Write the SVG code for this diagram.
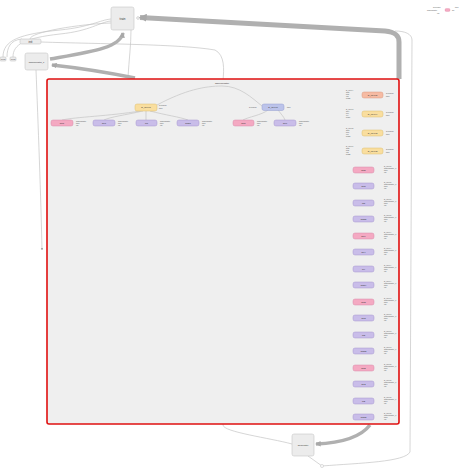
<svg xmlns="http://www.w3.org/2000/svg" width="474" height="476" viewBox="0 0 474 476">
<style>
text{font-family:"Liberation Sans",Arial,sans-serif;fill:#333}
.n{font-size:3px;text-anchor:middle}
.t{font-size:1.8px;fill:#555}
.box{fill:#ececec;stroke:#c8c8c8;stroke-width:0.6}
.pink{fill:#f4a9c2;stroke:#d98aa8;stroke-width:0.5}
.purp{fill:#c9bde9;stroke:#a596cf;stroke-width:0.5}
.yel{fill:#f9de9f;stroke:#dcbc6e;stroke-width:0.5}
.sal{fill:#f6bba3;stroke:#d99a80;stroke-width:0.5}
.blu{fill:#bcc3ea;stroke:#949fd1;stroke-width:0.5}
.thin{fill:none;stroke:#c4c4c4;stroke-width:0.7}
.thick{fill:none;stroke:#b0b0b0}
</style>
<defs>
<marker id="ah" viewBox="0 0 6 6" refX="5" refY="3" markerWidth="4" markerHeight="4" orient="auto"><path d="M0,0L6,3L0,6z" fill="#a8a8a8"/></marker>
<marker id="ahs" viewBox="0 0 6 6" refX="5" refY="3" markerWidth="1.6" markerHeight="1.6" orient="auto"><path d="M0,0L6,3L0,6z" fill="#a8a8a8"/></marker>
</defs>
<rect width="474" height="476" fill="#fff"/>

<g id="connectors">
<path class="thin" d="M3,57 C3,40 20,34 60,30 C90,27 100,20 111,19"/>
<path class="thin" d="M13,57 C13,44 25,38 60,34 C90,31 100,22 111,21"/>
<path class="thin" d="M22,39 C10,40 7,48 7,57"/>
<path class="thin" d="M30,39 C30,32 80,24 111,23"/>
<path class="thin" d="M41,42 C100,44 180,44 215,50 C225,55 224,70 223,80"/>
<path class="thin" d="M131,30 C131,45 129,60 128,77"/>
<path class="thin" d="M36,70 C38,120 41,200 42,250" marker-end="url(#ah)"/>
<path class="thin" d="M223,95 L223,425 C223,432 270,438 292,444"/>
<path class="thin" d="M308,456 L322,466 M322,466 C360,463 405,462 410,452 L412,40 C412,34 405,31 395,31"/>
<circle cx="322" cy="466" r="1.5" fill="#fff" stroke="#c4c4c4" stroke-width="0.6"/>
<path class="thick" stroke-width="3.5" d="M50,59 C90,52 120,48 123,33" marker-end="url(#ahs)"/>
<path class="thick" stroke-width="3.5" d="M135,78 C110,73 80,68 52,65" marker-end="url(#ahs)"/>
<path class="thick" stroke-width="5" d="M399,79 L399,42 C399,35 395,32 385,31 L140,17.5" marker-end="url(#ahs)"/>
<path class="thick" stroke-width="3.5" d="M370,425 C360,438 340,443 316,444" marker-end="url(#ahs)"/>
<circle cx="138" cy="18" r="1.3" fill="#fff" stroke="#a8a8a8" stroke-width="0.5"/>
</g>

<g id="train"><rect class="box" x="111" y="7" width="23" height="23" rx="2"/><text class="n" x="122.5" y="19.5">train</text></g>
<g id="init"><rect class="box" x="20" y="39" width="21" height="5" rx="1.5"/><text class="n" x="30.5" y="42.5">init</text></g>
<g id="const0"><rect class="box" x="0" y="57" width="6" height="4" rx="1"/><text class="t" x="3" y="59.8" text-anchor="middle">Const</text></g>
<g id="const1"><rect class="box" x="10" y="57" width="6" height="4" rx="1"/><text class="t" x="13" y="59.8" text-anchor="middle">Const</text></g>
<g id="discriminator_1"><rect class="box" x="25" y="53" width="23" height="17" rx="2"/><text class="n" x="36.5" y="62.5" style="font-size:2.3px">discriminator_1</text></g>
<g id="generator"><rect class="box" x="292" y="434" width="22" height="22" rx="2"/><text class="n" x="303" y="446" style="font-size:2.5px">generator</text></g>

<g id="discriminator">
<rect x="47" y="79" width="352" height="345" rx="2" fill="#efefef" stroke="#e01010" stroke-width="1.6"/>
<text class="n" x="222" y="83.5" style="font-size:2.5px">discriminator</text>
</g>

<g id="inner-edges">
<path class="thin" d="M157,105 C185,90 205,86 222,86 C240,86 252,98 262,106"/>
<path class="thin" d="M140,111 C110,116 75,117 62,120"/>
<path class="thin" d="M143,111 C125,115 110,117 104,120"/>
<path class="thin" d="M146,111 L146,120"/>
<path class="thin" d="M150,111 C165,115 180,117 188,120"/>
<path class="thin" d="M268,110 C262,115 248,117 243,120"/>
<path class="thin" d="M278,110 C281,114 284,117 285,120"/>
</g>

<g id="D_layer1"><rect class="yel" x="135" y="104" width="22" height="7" rx="2"/><text class="n" x="146" y="108.4" style="font-size:2.4px">D_layer1</text><text class="t" x="159" y="106">2 tensors</text><text class="t" x="159" y="108.5">train</text></g>
<g id="D_layer0"><rect class="blu" x="262" y="104" width="22" height="6.5" rx="2"/><text class="n" x="273" y="108.2" style="font-size:2.4px">D_layer0</text><text class="t" x="249" y="108">2 tensors</text><text class="t" x="287" y="108">train</text></g>

<g id="wn1"><rect class="pink" x="51" y="120" width="22" height="6" rx="2"/><text class="n" x="62" y="124" style="font-size:2.4px">wn1</text><text class="t" x="76" y="122">discriminator</text><text class="t" x="76" y="124">train</text><text class="t" x="76" y="126">init</text></g>
<g id="bn1"><rect class="purp" x="93" y="120" width="22" height="6" rx="2"/><text class="n" x="104" y="124" style="font-size:2.4px">bn1</text><text class="t" x="118" y="122">discriminator</text><text class="t" x="118" y="124">train</text><text class="t" x="118" y="126">init</text></g>
<g id="ip1"><rect class="purp" x="136" y="120" width="21" height="6" rx="2"/><text class="n" x="146.5" y="124" style="font-size:2.4px">ip1</text><text class="t" x="160" y="122">discriminator</text><text class="t" x="160" y="124">train</text><text class="t" x="160" y="126">init</text></g>
<g id="bias1"><rect class="purp" x="177" y="120" width="22" height="6" rx="2"/><text class="n" x="188" y="124" style="font-size:2.4px">bias1</text><text class="t" x="202" y="122">discriminator</text><text class="t" x="202" y="124">train</text><text class="t" x="202" y="126">init</text></g>
<g id="wn0"><rect class="pink" x="233" y="120" width="21" height="6" rx="2"/><text class="n" x="243.5" y="124" style="font-size:2.4px">wn0</text><text class="t" x="257" y="122">discriminator</text><text class="t" x="257" y="124">train</text><text class="t" x="257" y="126">init</text></g>
<g id="bn0"><rect class="purp" x="274" y="120" width="22" height="6" rx="2"/><text class="n" x="285" y="124" style="font-size:2.4px">bn0</text><text class="t" x="299" y="122">discriminator</text><text class="t" x="299" y="124">train</text><text class="t" x="299" y="126">init</text></g>

<g id="D_layer5"><rect class="sal" x="362" y="92" width="21" height="6" rx="2"/><text class="n" x="372.5" y="96" style="font-size:2.4px">D_layer5</text><text class="t" x="346" y="90.5">D_layer4</text><text class="t" x="346" y="92.5">wn5</text><text class="t" x="346" y="94.5">bn5</text><text class="t" x="346" y="96.5">ip5</text><text class="t" x="346" y="98.5">bias5</text><text class="t" x="386" y="94">2 tensors</text><text class="t" x="386" y="96.5">train</text></g>
<g id="D_layer4"><rect class="yel" x="362" y="111" width="21" height="6" rx="2"/><text class="n" x="372.5" y="115" style="font-size:2.4px">D_layer4</text><text class="t" x="346" y="109.5">D_layer3</text><text class="t" x="346" y="111.5">wn4</text><text class="t" x="346" y="113.5">bn4</text><text class="t" x="346" y="115.5">ip4</text><text class="t" x="346" y="117.5">bias4</text><text class="t" x="386" y="113">2 tensors</text><text class="t" x="386" y="115.5">train</text></g>
<g id="D_layer3"><rect class="yel" x="362" y="130" width="21" height="6" rx="2"/><text class="n" x="372.5" y="134" style="font-size:2.4px">D_layer3</text><text class="t" x="346" y="128.5">D_layer2</text><text class="t" x="346" y="130.5">wn3</text><text class="t" x="346" y="132.5">bn3</text><text class="t" x="346" y="134.5">ip3</text><text class="t" x="346" y="136.5">bias3</text><text class="t" x="386" y="132">2 tensors</text><text class="t" x="386" y="134.5">train</text></g>
<g id="D_layer2"><rect class="yel" x="362" y="148" width="21" height="6" rx="2"/><text class="n" x="372.5" y="152" style="font-size:2.4px">D_layer2</text><text class="t" x="346" y="146.5">D_layer1</text><text class="t" x="346" y="148.5">wn2</text><text class="t" x="346" y="150.5">bn2</text><text class="t" x="346" y="152.5">ip2</text><text class="t" x="346" y="154.5">bias2</text><text class="t" x="386" y="150">2 tensors</text><text class="t" x="386" y="152.5">train</text></g>

<g id="wn5"><rect class="pink" x="353" y="167" width="21" height="6" rx="2"/><text class="n" x="363.5" y="171" style="font-size:2.4px">wn5</text><text class="t" x="384" y="166.5">D_layer5</text><text class="t" x="384" y="168.5">discriminator_1</text><text class="t" x="384" y="170.5">train</text><text class="t" x="384" y="172.5">init</text></g>
<g id="bn5"><rect class="purp" x="353" y="183" width="21" height="6" rx="2"/><text class="n" x="363.5" y="187" style="font-size:2.4px">bn5</text><text class="t" x="384" y="182.5">D_layer5</text><text class="t" x="384" y="184.5">discriminator_1</text><text class="t" x="384" y="186.5">train</text><text class="t" x="384" y="188.5">init</text></g>
<g id="ip5"><rect class="purp" x="353" y="200" width="21" height="6" rx="2"/><text class="n" x="363.5" y="204" style="font-size:2.4px">ip5</text><text class="t" x="384" y="199.5">D_layer5</text><text class="t" x="384" y="201.5">discriminator_1</text><text class="t" x="384" y="203.5">train</text><text class="t" x="384" y="205.5">init</text></g>
<g id="bias5"><rect class="purp" x="353" y="216" width="21" height="6" rx="2"/><text class="n" x="363.5" y="220" style="font-size:2.4px">bias5</text><text class="t" x="384" y="215.5">D_layer5</text><text class="t" x="384" y="217.5">discriminator_1</text><text class="t" x="384" y="219.5">train</text><text class="t" x="384" y="221.5">init</text></g>
<g id="wn4"><rect class="pink" x="353" y="233" width="21" height="6" rx="2"/><text class="n" x="363.5" y="237" style="font-size:2.4px">wn4</text><text class="t" x="384" y="232.5">D_layer4</text><text class="t" x="384" y="234.5">discriminator_1</text><text class="t" x="384" y="236.5">train</text><text class="t" x="384" y="238.5">init</text></g>
<g id="bn4"><rect class="purp" x="353" y="249" width="21" height="6" rx="2"/><text class="n" x="363.5" y="253" style="font-size:2.4px">bn4</text><text class="t" x="384" y="248.5">D_layer4</text><text class="t" x="384" y="250.5">discriminator_1</text><text class="t" x="384" y="252.5">train</text><text class="t" x="384" y="254.5">init</text></g>
<g id="ip4"><rect class="purp" x="353" y="266" width="21" height="6" rx="2"/><text class="n" x="363.5" y="270" style="font-size:2.4px">ip4</text><text class="t" x="384" y="265.5">D_layer4</text><text class="t" x="384" y="267.5">discriminator_1</text><text class="t" x="384" y="269.5">train</text><text class="t" x="384" y="271.5">init</text></g>
<g id="bias4"><rect class="purp" x="353" y="282" width="21" height="6" rx="2"/><text class="n" x="363.5" y="286" style="font-size:2.4px">bias4</text><text class="t" x="384" y="281.5">D_layer4</text><text class="t" x="384" y="283.5">discriminator_1</text><text class="t" x="384" y="285.5">train</text><text class="t" x="384" y="287.5">init</text></g>
<g id="wn3"><rect class="pink" x="353" y="299" width="21" height="6" rx="2"/><text class="n" x="363.5" y="303" style="font-size:2.4px">wn3</text><text class="t" x="384" y="298.5">D_layer3</text><text class="t" x="384" y="300.5">discriminator_1</text><text class="t" x="384" y="302.5">train</text><text class="t" x="384" y="304.5">init</text></g>
<g id="bn3"><rect class="purp" x="353" y="315" width="21" height="6" rx="2"/><text class="n" x="363.5" y="319" style="font-size:2.4px">bn3</text><text class="t" x="384" y="314.5">D_layer3</text><text class="t" x="384" y="316.5">discriminator_1</text><text class="t" x="384" y="318.5">train</text><text class="t" x="384" y="320.5">init</text></g>
<g id="ip3"><rect class="purp" x="353" y="332" width="21" height="6" rx="2"/><text class="n" x="363.5" y="336" style="font-size:2.4px">ip3</text><text class="t" x="384" y="331.5">D_layer3</text><text class="t" x="384" y="333.5">discriminator_1</text><text class="t" x="384" y="335.5">train</text><text class="t" x="384" y="337.5">init</text></g>
<g id="bias3"><rect class="purp" x="353" y="348" width="21" height="6" rx="2"/><text class="n" x="363.5" y="352" style="font-size:2.4px">bias3</text><text class="t" x="384" y="347.5">D_layer3</text><text class="t" x="384" y="349.5">discriminator_1</text><text class="t" x="384" y="351.5">train</text><text class="t" x="384" y="353.5">init</text></g>
<g id="wn2"><rect class="pink" x="353" y="365" width="21" height="6" rx="2"/><text class="n" x="363.5" y="369" style="font-size:2.4px">wn2</text><text class="t" x="384" y="364.5">D_layer2</text><text class="t" x="384" y="366.5">discriminator_1</text><text class="t" x="384" y="368.5">train</text><text class="t" x="384" y="370.5">init</text></g>
<g id="bn2"><rect class="purp" x="353" y="381" width="21" height="6" rx="2"/><text class="n" x="363.5" y="385" style="font-size:2.4px">bn2</text><text class="t" x="384" y="380.5">D_layer2</text><text class="t" x="384" y="382.5">discriminator_1</text><text class="t" x="384" y="384.5">train</text><text class="t" x="384" y="386.5">init</text></g>
<g id="ip2"><rect class="purp" x="353" y="398" width="21" height="6" rx="2"/><text class="n" x="363.5" y="402" style="font-size:2.4px">ip2</text><text class="t" x="384" y="397.5">D_layer2</text><text class="t" x="384" y="399.5">discriminator_1</text><text class="t" x="384" y="401.5">train</text><text class="t" x="384" y="403.5">init</text></g>
<g id="bias2"><rect class="purp" x="353" y="414" width="21" height="6" rx="2"/><text class="n" x="363.5" y="418" style="font-size:2.4px">bias2</text><text class="t" x="384" y="413.5">D_layer2</text><text class="t" x="384" y="415.5">discriminator_1</text><text class="t" x="384" y="417.5">train</text><text class="t" x="384" y="419.5">init</text></g>

<g id="legend">
<text class="t" x="433" y="7.5">generator</text>
<text class="t" x="427" y="10.5">discriminator</text>
<rect x="445" y="8.5" width="5" height="3" rx="1.2" fill="#f4a9c2" stroke="#d98aa8" stroke-width="0.3"/>
<text class="t" x="452" y="10.5">wn</text>
<text class="t" x="455" y="7.5">train</text>
<text class="t" x="437" y="13.5">init</text>
</g>
</svg>
